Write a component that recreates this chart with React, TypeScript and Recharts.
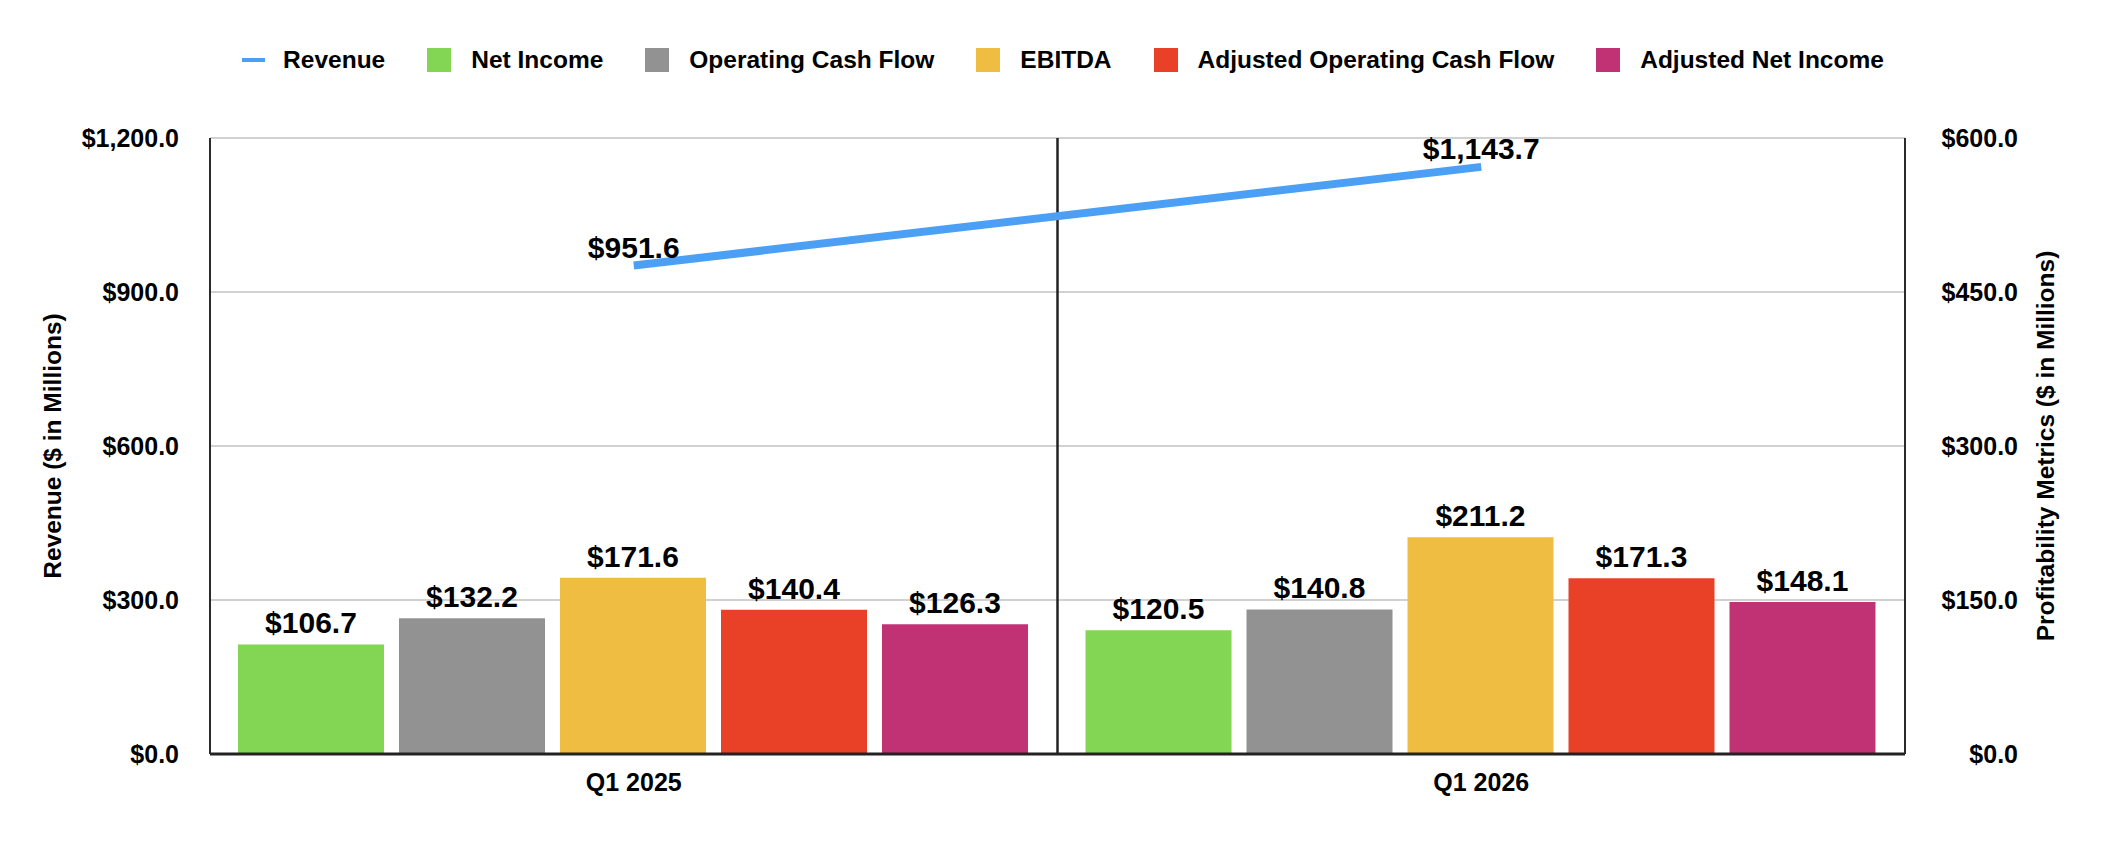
import React from 'react';
import {
  ComposedChart,
  Bar,
  Line,
  XAxis,
  YAxis,
  CartesianGrid,
  Legend,
  LabelList,
  ReferenceLine,
} from 'recharts';

const quarters = ['Q1 2025', 'Q1 2026'];
const revenue = [951.6, 1143.7];
const netIncome = [106.7, 120.5];
const operatingCashFlow = [132.2, 140.8];
const ebitda = [171.6, 211.2];
const adjOperatingCashFlow = [140.4, 171.3];
const adjNetIncome = [126.3, 148.1];

const leftTicks = [0, 300, 600, 900, 1200];
const rightTicks = [0, 150, 300, 450, 600];

const REVENUE_COLOR = '#4BA0F5';

const barSeries = [
  { key: 'netIncome', name: 'Net Income', color: '#83D654', values: netIncome },
  { key: 'operatingCashFlow', name: 'Operating Cash Flow', color: '#929292', values: operatingCashFlow },
  { key: 'ebitda', name: 'EBITDA', color: '#EEBD41', values: ebitda },
  { key: 'adjOperatingCashFlow', name: 'Adjusted Operating Cash Flow', color: '#E84127', values: adjOperatingCashFlow },
  { key: 'adjNetIncome', name: 'Adjusted Net Income', color: '#C03274', values: adjNetIncome },
];

const data = quarters.map((quarter, i) => {
  const row: Record<string, string | number> = { quarter, revenue: revenue[i] };
  barSeries.forEach((s) => {
    row[s.key] = s.values[i];
  });
  return row;
});

const legendItems = [
  { name: 'Revenue', color: REVENUE_COLOR, line: true },
  ...barSeries.map((s) => ({ name: s.name, color: s.color, line: false })),
];

const FONT = '"Liberation Sans", Arial, Helvetica, sans-serif';

const money = (v: number) =>
  '$' + Number(v).toLocaleString('en-US', { minimumFractionDigits: 1, maximumFractionDigits: 1 });

const W = 2116;
const H = 842;

const LegendRow = () => (
  <div
    style={{
      display: 'flex',
      justifyContent: 'center',
      alignItems: 'center',
      height: 32,
      fontFamily: FONT,
      fontSize: 24.5,
      fontWeight: 700,
      color: '#000',
      paddingLeft: 10,
    }}
  >
    {legendItems.map((it, i) => (
      <div
        key={it.name}
        style={{ display: 'flex', alignItems: 'center', marginRight: i < legendItems.length - 1 ? 42 : 0 }}
      >
        <span
          style={{
            display: 'inline-block',
            width: it.line ? 23 : 24,
            height: it.line ? 4 : 24,
            background: it.color,
            marginRight: it.line ? 18 : 20,
          }}
        />
        <span>{it.name}</span>
      </div>
    ))}
  </div>
);

const AxisTitle = (props: any) => {
  const { viewBox, value, dx } = props;
  if (!viewBox) return null;
  const cx = viewBox.x + dx;
  const cy = viewBox.y + viewBox.height / 2;
  return (
    <text
      x={cx}
      y={cy}
      transform={`rotate(-90 ${cx} ${cy})`}
      textAnchor="middle"
      dominantBaseline="central"
      fill="#000"
      style={{ fontFamily: FONT, fontSize: 24.5, fontWeight: 700 }}
    >
      {value}
    </text>
  );
};

const RightTick = (props: any) => {
  const { x, y, payload } = props;
  return (
    <text
      x={x + 113}
      y={y}
      dy="0.355em"
      textAnchor="end"
      fill="#000"
      style={{ fontFamily: FONT, fontSize: 25, fontWeight: 700 }}
    >
      {money(payload.value)}
    </text>
  );
};

const tickStyle = { fontFamily: FONT, fontSize: 25, fontWeight: 700, fill: '#000' };
const labelStyle = { fontFamily: FONT, fontSize: 30, fontWeight: 700, fill: '#000' };

export default function App() {
  return (
    <div style={{ position: 'absolute', left: 0, top: 0, width: W, height: H, background: '#fff', fontFamily: FONT }}>
      <ComposedChart
        width={W}
        height={H}
        data={data}
        margin={{ top: 138, right: 0, bottom: 28, left: 0 }}
        barCategoryGap={28}
        barGap={15}
      >
        <CartesianGrid yAxisId="left" vertical={false} stroke="#c2c2c2" strokeWidth={1.5} />
        <XAxis
          dataKey="quarter"
          height={60}
          tickLine={false}
          tickSize={0}
          tickMargin={19}
          axisLine={{ stroke: '#222', strokeWidth: 3 }}
          tick={tickStyle}
        />
        <YAxis
          yAxisId="left"
          width={210}
          domain={[0, 1200]}
          ticks={leftTicks}
          tickFormatter={money}
          tickLine={false}
          tickSize={0}
          tickMargin={31}
          axisLine={{ stroke: '#2a2a2a', strokeWidth: 2 }}
          tick={tickStyle}
          label={<AxisTitle value="Revenue ($ in Millions)" dx={52} />}
        />
        <YAxis
          yAxisId="right"
          orientation="right"
          width={211}
          domain={[0, 600]}
          ticks={rightTicks}
          tickLine={false}
          tickSize={0}
          tickMargin={0}
          axisLine={{ stroke: '#2a2a2a', strokeWidth: 2 }}
          tick={<RightTick />}
          label={<AxisTitle value="Profitability Metrics ($ in Millions)" dx={140} />}
        />
        <Legend
          verticalAlign="middle"
          align="center"
          layout="horizontal"
          wrapperStyle={{ top: 44, left: 0, width: W }}
          content={() => <LegendRow />}
        />
        {quarters.slice(0, -1).map((q) => (
          <ReferenceLine
            key={q}
            x={q}
            position="end"
            yAxisId="left"
            stroke="#222"
            strokeWidth={2.5}
          />
        ))}
        {barSeries.map((s) => (
          <Bar
            key={s.key}
            dataKey={s.key}
            name={s.name}
            yAxisId="right"
            fill={s.color}
            isAnimationActive={false}
          >
            <LabelList dataKey={s.key} position="top" offset={11} formatter={money} style={labelStyle} />
          </Bar>
        ))}
        <Line
          type="linear"
          dataKey="revenue"
          name="Revenue"
          yAxisId="left"
          stroke={REVENUE_COLOR}
          strokeWidth={8}
          dot={false}
          activeDot={false}
          isAnimationActive={false}
        >
          <LabelList dataKey="revenue" position="top" offset={8} formatter={money} style={labelStyle} />
        </Line>
      </ComposedChart>
    </div>
  );
}
